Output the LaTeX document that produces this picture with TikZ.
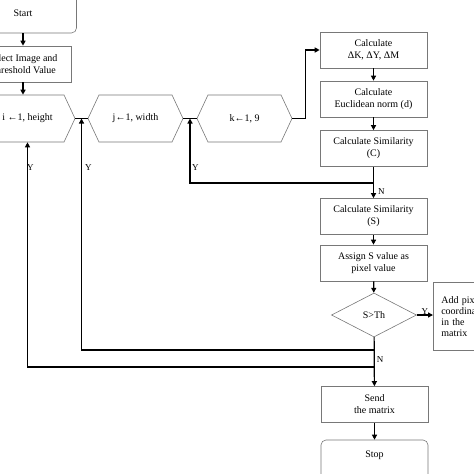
\documentclass[tikz,border=0pt]{standalone}
\usepackage{fontspec}
\setmainfont{Liberation Serif}
\usetikzlibrary{arrows.meta,calc,positioning,shapes.geometric,shapes.symbols}
\definecolor{boxgray}{RGB}{120,120,120}
\tikzset{
  proc/.style={draw=boxgray,line width=.6pt,minimum width=107pt,minimum height=36pt,
    align=center,inner sep=2pt},
  term/.style={proc,rounded corners=5pt,minimum height=40pt},
  loopbox/.style={draw=boxgray,line width=.6pt,signal,signal to=east and west,
    signal pointer angle=130,minimum width=95pt,minimum height=47pt,inner sep=1pt},
  decide/.style={draw=boxgray,line width=.6pt,diamond,aspect=1.93,minimum width=85pt,
    minimum height=44pt,inner sep=0pt},
  flow/.style={line width=1.2pt,-{Triangle[length=5pt,width=5pt]}},
  plain/.style={line width=1.2pt},
  lbl/.style={font=\small,inner sep=1pt}
}

\begin{document}
\begin{tikzpicture}[x=1pt,y=-1pt]
  \useasboundingbox (0,0) rectangle (474,474);
  \clip (0,0) rectangle (474,474);
  % left column
  \node[term] (start) at (23,13) {Start};
  \node[proc,minimum width=96pt] (select) at (23,64) {Select Image and\\Threshold Value};
  % loop heads
  \node[loopbox] (iloop) at (27.5,118.5) {i ←1, height};
  \node[loopbox] (jloop) at (135.5,118.5) {j←1, width};
  \node[loopbox] (kloop) at (244.5,118.5) {k←1, 9};
  % right column
  \node[proc] (delta) at (373.5,50) {Calculate\\ΔK, ΔY, ΔM};
  \node[proc] (norm) at (373.5,99) {Calculate\\Euclidean norm (d)};
  \node[proc] (simc) at (373.5,148.5) {Calculate Similarity\\(C)};
  \node[proc] (sims) at (373.5,216.5) {Calculate Similarity\\(S)};
  \node[proc] (assign) at (373.5,263) {Assign S value as\\pixel value};
  \node[decide] (test) at (374,315) {S>Th};
  \node[draw=boxgray,line width=.6pt,anchor=north west,minimum width=90pt,minimum height=68pt,
    text width=74pt,align=left,inner xsep=8pt,inner ysep=4pt,
    font=\fontsize{10pt}{11pt}\selectfont]
    (addpix) at (433,282) {Add pixel\\coordinates\\in the\\matrix};
  \node[proc] (send) at (374.5,404.5) {Send\\the matrix};
  \node[term,align=center] (stop) at (374.5,460) {Stop\\\mbox{}};

  \coordinate (ij) at ($(iloop.east)!.5!(jloop.west)$);
  \coordinate (jk) at ($(jloop.east)!.5!(kloop.west)$);
  \coordinate (kback) at (simc.south |- 0,183);
  \coordinate (jback) at (test.south |- 0,350);
  \coordinate (iback) at (test.south |- 0,367);

  \draw[flow] (start) -- (select);
  \draw[flow] (select.south) -- (select.south |- iloop.north);
  \draw[plain] (iloop.east) -- (jloop.west);
  \draw[plain] (jloop.east) -- (kloop.west);
  \draw[flow] (kloop.east) -- ++(13,0) |- (delta.west);
  \draw[flow] (delta) -- (norm);
  \draw[flow] (norm) -- (simc);
  \draw[flow] (simc) -- (sims) node[lbl,pos=.8,right=3pt] (nc) {N};
  \draw[flow] (sims) -- (assign);
  \draw[flow] (assign) -- (test);
  \draw[flow] (test.east) -- (addpix.west |- test.east) node[lbl,midway,above=-1pt] (yt) {Y};
  \draw[flow] (test) -- (send) node[lbl,pos=.45,right=1pt] (nt) {N};
  \draw[flow] (send) -- (stop);
  % back loops
  \draw[flow] (kback) -| (jk);
  \draw[flow] (jback) -| (ij);
  \draw[flow] (iback) -| (iloop.south);
  \node[lbl,anchor=west] (yk) at (191,168) {Y};
  \node[lbl,anchor=west] (yj) at (84,168) {Y};
  \node[lbl,anchor=west] (yi) at (26,168) {Y};
\end{tikzpicture}
\end{document}
